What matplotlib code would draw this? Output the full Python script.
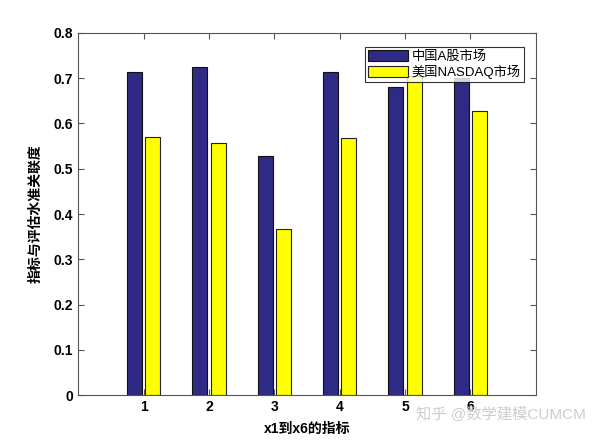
import matplotlib.pyplot as plt
import numpy as np

plt.rcParams['font.family'] = ['Liberation Sans', 'Noto Sans CJK SC', 'DejaVu Sans']

categories = [1, 2, 3, 4, 5, 6]
cn_values = [0.714, 0.725, 0.527, 0.714, 0.680, 0.700]
us_values = [0.571, 0.556, 0.368, 0.568, 0.705, 0.628]
series_names = ['中国A股市场', '美国NASDAQ市场']
y_ticks = [0, 0.1, 0.2, 0.3, 0.4, 0.5, 0.6, 0.7, 0.8]


def plot_bars():
    fig = plt.figure(figsize=(5.92, 4.44), dpi=100)
    ax = fig.add_axes([0.132, 0.110, 0.773, 0.816])

    x = np.array(categories)
    ax.bar(x - 0.14, cn_values, 0.23, color='#2e2a85', edgecolor='#111111',
           linewidth=0.8, label=series_names[0])
    ax.bar(x + 0.14, us_values, 0.23, color='#ffff00', edgecolor='#222222',
           linewidth=0.8, label=series_names[1])

    ax.set_xlim(0, 7)
    ax.set_ylim(0, 0.8)
    ax.set_xticks(categories)
    ax.set_yticks(y_ticks)
    ax.set_yticklabels(['0' if t == 0 else f'{t:.1f}' for t in y_ticks])
    ax.tick_params(direction='in', length=4, width=0.8, labelsize=10,
                   top=True, right=True, colors='#555555', labelcolor='black')
    for lbl in ax.get_xticklabels() + ax.get_yticklabels():
        lbl.set_fontweight('bold')
    for sp in ax.spines.values():
        sp.set_color('#555555')
        sp.set_linewidth(0.8)

    ax.set_xlabel('x1到x6的指标', fontsize=10, fontweight='bold', labelpad=6)
    ax.set_ylabel('指标与评估水准关联度', fontsize=10, fontweight='bold', labelpad=8)

    leg = ax.legend(loc='upper right', bbox_to_anchor=(0.975, 0.962), fontsize=9.5,
                    frameon=True, fancybox=False, borderaxespad=0,
                    handlelength=3.0, handleheight=0.9, handletextpad=0.3,
                    labelspacing=0.15, borderpad=0.25)
    leg.get_frame().set_edgecolor('black')
    leg.get_frame().set_linewidth(0.8)

    # watermark from the source image
    fig.text(0.99, 0.066, '知乎 @数学建模CUMCM', ha='right', va='center',
             fontsize=11, color='#cccccc', zorder=0)

    fig.savefig('out.png', dpi=100)


def main():
    plot_bars()


if __name__ == "__main__":
    main()
